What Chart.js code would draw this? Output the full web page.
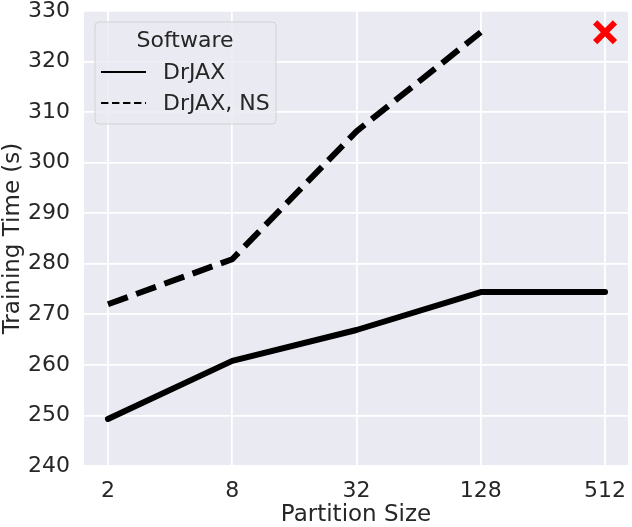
<!DOCTYPE html>
<html>
<head>
<meta charset="utf-8">
<script src="https://cdn.jsdelivr.net/npm/chart.js@4"></script>
<style>
  html, body { margin: 0; padding: 0; background: #ffffff; }
  #wrap { width: 632px; height: 527px; }
</style>
</head>
<body>
<div id="wrap"><canvas id="c" width="632" height="527"></canvas></div>
<script>
// ---- Data ----
const partitionSizes = [2, 8, 32, 128, 512];
const drjaxTimes = [249.3, 260.8, 266.9, 274.4, 274.4];
const drjaxNSTimes = [272.0, 280.9, 306.2, 325.8, null];
const failedNSTimes = [null, null, null, null, 325.8];
const seriesLabels = ['DrJAX', 'DrJAX, NS'];
const legendTitle = 'Software';
const yTicks = [240, 250, 260, 270, 280, 290, 300, 310, 320, 330];
const xTitle = 'Partition Size';
const yTitle = 'Training Time (s)';

const FONT = "'DejaVu Sans', sans-serif";
const TXT = '#262626';

function toPoints(vals) {
  return partitionSizes.map((s, i) => ({ x: Math.log2(s), y: vals[i] }));
}

function noPad(scale) {
  scale.paddingLeft = 0;
  scale.paddingRight = 0;
  scale.paddingTop = 0;
  scale.paddingBottom = 0;
}

const bgPlugin = {
  id: 'bg',
  beforeDraw(chart) {
    const { ctx, chartArea: a } = chart;
    ctx.save();
    ctx.fillStyle = '#ffffff';
    ctx.fillRect(0, 0, chart.width, chart.height);
    ctx.fillStyle = '#EAEAF2';
    ctx.fillRect(a.left, a.top, a.right - a.left, a.bottom - a.top);
    ctx.restore();
  }
};

function roundRect(ctx, x, y, w, h, r) {
  ctx.beginPath();
  ctx.moveTo(x + r, y);
  ctx.lineTo(x + w - r, y);
  ctx.arcTo(x + w, y, x + w, y + r, r);
  ctx.lineTo(x + w, y + h - r);
  ctx.arcTo(x + w, y + h, x + w - r, y + h, r);
  ctx.lineTo(x + r, y + h);
  ctx.arcTo(x, y + h, x, y + h - r, r);
  ctx.lineTo(x, y + r);
  ctx.arcTo(x, y, x + r, y, r);
  ctx.closePath();
}

const legendPlugin = {
  id: 'customLegend',
  afterDatasetsDraw(chart) {
    const { ctx, chartArea: a } = chart;
    const x0 = a.left + 11, y0 = a.top + 11, w = 181, h = 102;
    ctx.save();
    roundRect(ctx, x0, y0, w, h, 4);
    ctx.fillStyle = 'rgba(234,234,242,0.85)';
    ctx.fill();
    ctx.lineWidth = 1;
    ctx.strokeStyle = 'rgba(204,204,204,0.8)';
    ctx.stroke();
    ctx.fillStyle = TXT;
    ctx.font = '22px ' + FONT;
    ctx.textBaseline = 'middle';
    ctx.textAlign = 'center';
    ctx.fillText(legendTitle, x0 + 90, y0 + 19);
    ctx.textAlign = 'left';
    const rows = [y0 + 50, y0 + 81];
    chart.data.datasets.slice(0, 2).forEach((ds, i) => {
      const yy = rows[i];
      ctx.beginPath();
      ctx.strokeStyle = '#000';
      ctx.lineWidth = 2;
      ctx.lineCap = 'butt';
      ctx.setLineDash(i === 1 ? [7.4, 3.6] : []);
      ctx.moveTo(x0 + 6, yy);
      ctx.lineTo(x0 + 51, yy);
      ctx.stroke();
      ctx.setLineDash([]);
      ctx.fillText(ds.label, x0 + 68, yy + 1);
    });
    ctx.restore();
  }
};

new Chart(document.getElementById('c'), {
  type: 'line',
  data: {
    datasets: [
      {
        label: seriesLabels[0],
        data: toPoints(drjaxTimes),
        borderColor: '#000',
        borderWidth: 6,
        borderCapStyle: 'round',
        borderJoinStyle: 'round',
        pointRadius: 0,
        fill: false
      },
      {
        label: seriesLabels[1],
        data: toPoints(drjaxNSTimes),
        borderColor: '#000',
        borderWidth: 6,
        borderDash: [21, 9],
        borderCapStyle: 'butt',
        borderJoinStyle: 'round',
        pointRadius: 0,
        fill: false,
        spanGaps: false
      },
      {
        label: 'failed',
        data: toPoints(failedNSTimes),
        showLine: false,
        pointStyle: 'crossRot',
        pointRadius: 14,
        pointBorderWidth: 6,
        pointBorderColor: '#FF0000',
        pointBackgroundColor: '#FF0000',
        borderColor: '#FF0000'
      }
    ]
  },
  options: {
    responsive: false,
    animation: false,
    devicePixelRatio: 1,
    layout: { autoPadding: false, padding: { top: 11, right: 4, left: 0, bottom: 0 } },
    plugins: { legend: { display: false }, tooltip: { enabled: false } },
    scales: {
      x: {
        type: 'linear',
        min: 1 - 24 / 62.25,
        max: 9 + 23 / 62.25,
        afterBuildTicks(scale) {
          scale.ticks = partitionSizes.map(s => ({ value: Math.log2(s) }));
        },
        afterFit(scale) { scale.height = 61; noPad(scale); },
        grid: { color: '#ffffff', lineWidth: 1.8, drawTicks: false },
        border: { display: false },
        ticks: {
          color: TXT,
          font: { family: FONT, size: 22 },
          padding: 12,
          maxRotation: 0,
          autoSkip: false,
          callback: (v) => String(Math.round(Math.pow(2, v)))
        },
        title: {
          display: true,
          text: xTitle,
          color: TXT,
          font: { family: FONT, size: 23, lineHeight: 1.0 },
          padding: { top: 0, bottom: 0 }
        }
      },
      y: {
        type: 'linear',
        min: yTicks[0],
        max: yTicks[yTicks.length - 1],
        afterBuildTicks(scale) {
          scale.ticks = yTicks.map(v => ({ value: v }));
        },
        afterFit(scale) { scale.width = 84; noPad(scale); },
        grid: { color: '#ffffff', lineWidth: 1.8, drawTicks: false },
        border: { display: false },
        ticks: {
          color: TXT,
          font: { family: FONT, size: 22 },
          padding: 14
        },
        title: {
          display: true,
          text: yTitle,
          color: TXT,
          font: { family: FONT, size: 23, lineHeight: 1.0 },
          padding: { top: 2, bottom: 0 }
        }
      }
    }
  },
  plugins: [bgPlugin, legendPlugin]
});
</script>
</body>
</html>
